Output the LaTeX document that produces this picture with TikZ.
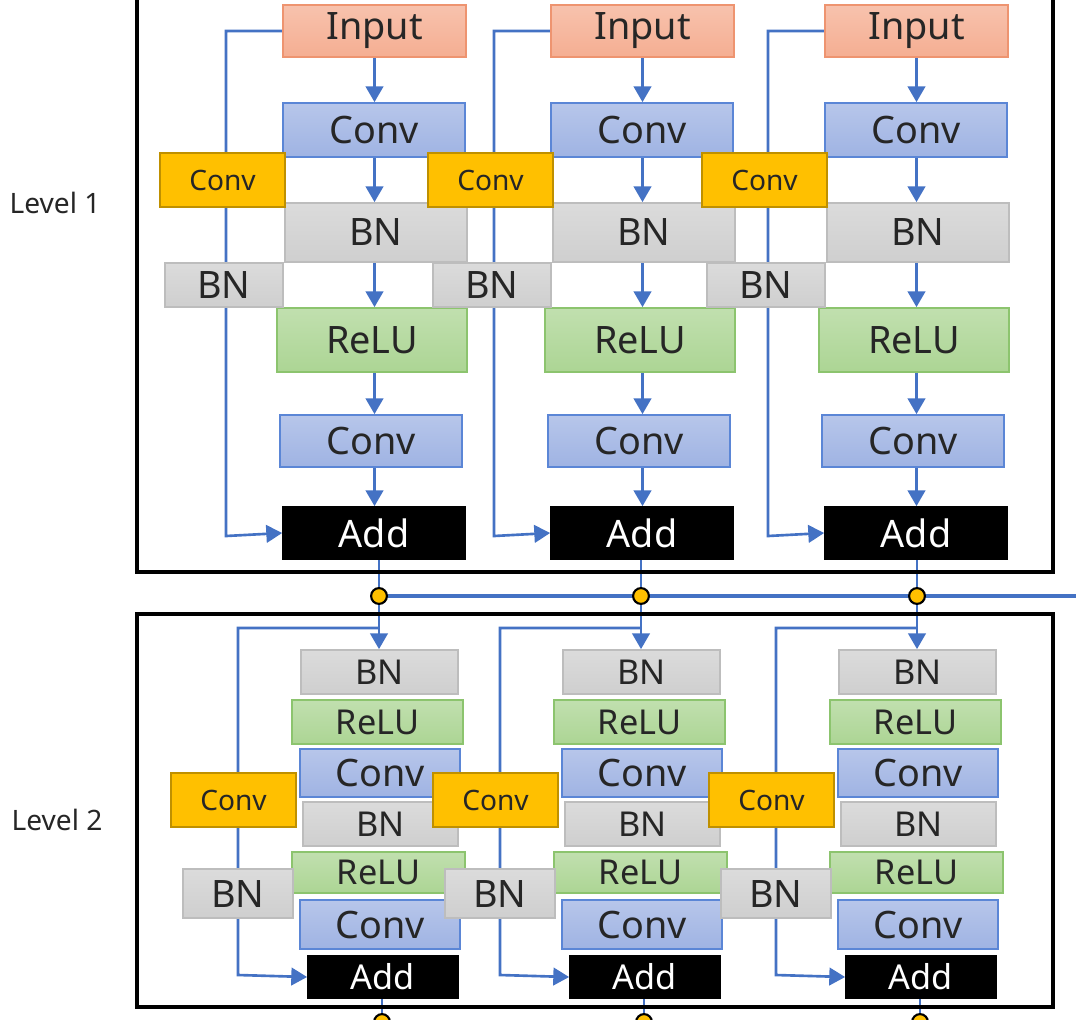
\documentclass[tikz,border=0pt]{standalone}
\usepackage{fontspec}
\setmainfont{Noto Sans}
\usetikzlibrary{arrows.meta,backgrounds}
\definecolor{lnblue}{HTML}{4472C4}
\definecolor{cvfill}{HTML}{9FB3E3}
\definecolor{cvdraw}{HTML}{5B86D6}
\definecolor{infill}{HTML}{F5AE92}
\definecolor{indraw}{HTML}{EE9470}
\definecolor{bnfill}{HTML}{CFCFCF}
\definecolor{bndraw}{HTML}{BDBDBD}
\definecolor{rlfill}{HTML}{ACD594}
\definecolor{rldraw}{HTML}{8CC46E}
\definecolor{ocfill}{HTML}{FFC000}
\definecolor{ocdraw}{HTML}{BF9000}
\tikzset{
  box/.style={draw, line width=1pt, inner sep=0pt, text=black!85},
  conv/.style={box, top color=cvfill!75!white, bottom color=cvfill, draw=cvdraw},
  inp/.style={box, top color=infill!75!white, bottom color=infill, draw=indraw},
  bn/.style={box, top color=bnfill!75!white, bottom color=bnfill, draw=bndraw},
  relu/.style={box, top color=rlfill!75!white, bottom color=rlfill, draw=rldraw},
  side/.style={box, fill=ocfill, draw=ocdraw, line width=1.6pt, font=\fontsize{16}{16}\selectfont},
  add/.style={box, fill=black, draw=black, text=white},
  big/.style={font=\fontsize{21.5}{21.5}\selectfont},
  mid/.style={font=\fontsize{19.5}{19.5}\selectfont},
  lnk/.style={draw=lnblue, line width=1.5pt},
  arr/.style={lnk, -{Triangle[width=10pt,length=9pt]}},
  dot/.style={circle, draw=black, fill=ocfill, line width=1.2pt, inner sep=0pt, minimum size=9pt},
  frame/.style={draw=black, line width=2pt}
}
\newcommand{\bx}[7]{% name, style, x1, y1, x2, y2, text
  \node[#2, minimum width={((#5)-(#3))*0.02cm}, minimum height={((#6)-(#4))*0.02cm}]
    (#1) at ({((#3)+(#5))/2}, {((#4)+(#6))/2}) {#7};}
\begin{document}
\begin{tikzpicture}[x=0.02cm, y=-0.02cm]
\useasboundingbox (0,0) rectangle (1076,1019);
\draw[frame] (137,-10) rectangle (1053,572);
\draw[frame] (137,614) rectangle (1053,1007);
\node[font=\fontsize{16}{16}\selectfont, text=black!85] (lv1) at (55,203) {Level 1};
\node[font=\fontsize{16}{16}\selectfont, text=black!85] (lv2) at (57,820) {Level 2};
\draw[lnk, line width=2pt] (379,596) -- (1076,596);
\foreach \i/\o/\d in {1/0/0, 2/268/262, 3/542/538} {
  % level 1 column
  \bx{in\i}{inp,big}{283+\o}{5}{466+\o}{57}{Input}
  \bx{ca\i}{conv,big}{283+\o}{103}{465+\o}{157}{Conv}
  \bx{bna\i}{bn,big}{285+\o}{203}{467+\o}{262}{BN}
  \bx{rl\i}{relu,big}{277+\o}{308}{467+\o}{372}{ReLU}
  \bx{cb\i}{conv,big}{280+\o}{415}{462+\o}{467}{Conv}
  \bx{ad\i}{add,big}{283+\o}{507}{465+\o}{559}{Add}
  \bx{sc\i}{side}{160+\o}{153}{285+\o}{207}{Conv}
  \bx{sb\i}{bn,big}{165+\o}{263}{283+\o}{307}{BN}
  \coordinate (s\i) at (226+\o,536);
  \node[dot] (o\i) at (379+\d,596) {};
  % level 2 column
  \bx{b1\i}{bn,mid}{301+\d}{650}{458+\d}{694}{BN}
  \bx{r1\i}{relu,mid}{292+\d}{700}{463+\d}{744}{ReLU}
  \bx{c1\i}{conv,big}{300+\d}{749}{460+\d}{797}{Conv}
  \bx{b2\i}{bn,mid}{303+\d}{802}{458+\d}{846}{BN}
  \bx{r2\i}{relu,mid}{292+\d}{852}{465+\d}{893}{ReLU}
  \bx{c2\i}{conv,big}{300+\d}{900}{460+\d}{949}{Conv}
  \bx{a2\i}{add,mid}{308+\d}{956}{458+\d}{998}{Add}
  \bx{s2c\i}{side}{171+\d}{773}{296+\d}{827}{Conv}
  \bx{s2b\i}{bn,big}{183+\d}{869}{293+\d}{918}{BN}
  \node[dot] (q\i) at (382+\d,1022) {};
  \coordinate (t\i) at (379+\d,628);
  \coordinate (u\i) at (238+\d,975);
  \begin{scope}[on background layer]
    \draw[arr] (in\i) -- (in\i |- ca\i.north);
    \draw[arr] (in\i |- ca\i.south) -- (in\i |- bna\i.north);
    \draw[arr] (in\i |- bna\i.south) -- (in\i |- rl\i.north);
    \draw[arr] (in\i |- rl\i.south) -- (in\i |- cb\i.north);
    \draw[arr] (in\i |- cb\i.south) -- (in\i |- ad\i.north);
    \draw[arr] (in\i.west) -| (s\i) -- (ad\i.west);
    \draw[lnk] (o\i |- ad\i.south) -- (o\i);
    \draw[arr] (o\i) -- (o\i |- b1\i.north);
    \draw[arr] (t\i) -| (u\i) -- (a2\i.west);
    \draw[lnk] (q\i |- a2\i.south) -- (q\i);
  \end{scope}
}
\end{tikzpicture}
\end{document}
